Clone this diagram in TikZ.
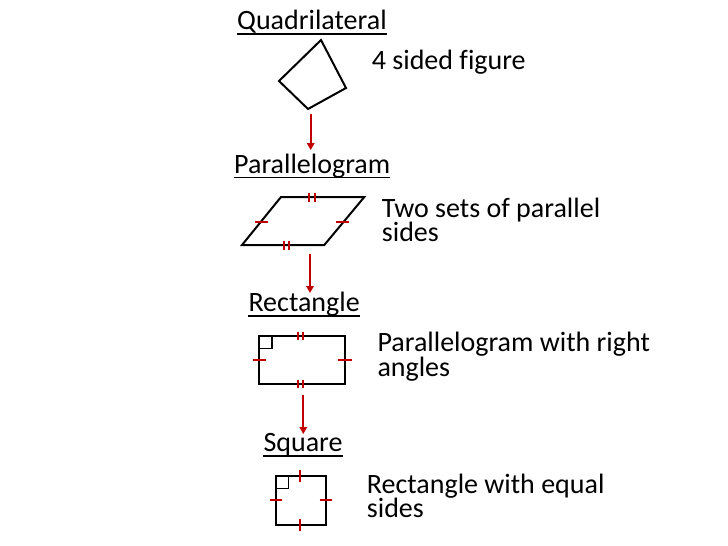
\documentclass[tikz,border=0pt]{standalone}
\usepackage{fontspec}
\setmainfont{Carlito}[Ligatures=NoCommon]
\usetikzlibrary{arrows.meta}
\definecolor{tickred}{HTML}{C00000}
\begin{document}
\begin{tikzpicture}[x=1pt,y=-1pt,
  shapeline/.style={draw=black,line width=2pt,line join=miter},
  tickmark/.style={draw=tickred,line width=1.8pt},
  arr/.style={draw=tickred,line width=2pt,-{Triangle[length=7pt,width=7.5pt]}},
  title/.style={anchor=base west,inner sep=0pt,font=\fontsize{28}{30}\selectfont},
  desc/.style={anchor=base west,inner sep=0pt,align=left,font=\fontsize{28}{24.5}\selectfont},
  uline/.style={draw=black,line width=1.5pt}]
\useasboundingbox (0,0) rectangle (728,546);
% titles
\node[title] (tq) at (237,29.5) {Quadrilateral};
\node[title] (tp) at (234,173) {Parallelogram};
\node[title] (tr) at (248.3,311.7) {Rectangle};
\node[title] (ts) at (263.3,451.7) {Square};
\foreach \t in {tq,tp,tr,ts}
  \draw[uline] ([yshift=-4.5pt]\t.base west) -- ([yshift=-4.5pt]\t.base east);
% descriptions (base anchor = last line)
\node[desc] (dq) at (371.7,69.3) {4 sided figure};
\node[desc] (dp) at (381.7,241.5) {Two sets of parallel\\sides};
\node[desc] (dr) at (377.3,376) {Parallelogram with right\\angles};
\node[desc] (ds) at (366.7,517.5) {Rectangle with equal\\sides};
% quadrilateral
\draw[shapeline] (321,40) -- (279,81) -- (308,109) -- (346,88) -- cycle;
% parallelogram
\draw[shapeline] (281,197) -- (364.3,197) -- (324.3,245) -- (242,245) -- cycle;
\draw[tickmark] (309.3,192.7) -- (309.3,201.7) (314.7,192.7) -- (314.7,201.7);
\draw[tickmark] (284.3,240.5) -- (284.3,249.5) (289.3,240.5) -- (289.3,249.5);
\draw[tickmark] (255,221.7) -- (268.3,221.7);
\draw[tickmark] (336,221.7) -- (349.3,221.7);
% rectangle
\draw[shapeline] (259.3,335.7) rectangle (345,383.7);
\draw[shapeline,line width=1.6pt] (259.3,348.3) -- (272,348.3) -- (272,335.7);
\draw[tickmark] (298.3,331.7) -- (298.3,339.7) (303.3,331.7) -- (303.3,339.7);
\draw[tickmark] (298.3,379.7) -- (298.3,387.7) (303.3,379.7) -- (303.3,387.7);
\draw[tickmark] (252.7,360) -- (266,360);
\draw[tickmark] (338.3,360) -- (351.7,360);
% square
\draw[shapeline] (275.7,475.7) rectangle (325.7,525);
\draw[shapeline,line width=1.6pt] (275.7,488.3) -- (288.3,488.3) -- (288.3,475.7);
\draw[tickmark] (300,469.7) -- (300,481.7);
\draw[tickmark] (300,519) -- (300,531);
\draw[tickmark] (269.7,500) -- (281.7,500);
\draw[tickmark] (319.7,500) -- (331.7,500);
% arrows
\coordinate (a1s) at (310.7,114);
\coordinate (a1e) at (310.7,150);
\coordinate (a2s) at (310,254);
\coordinate (a2e) at (310,293);
\coordinate (a3s) at (303.3,395);
\coordinate (a3e) at (303.3,434);
\draw[arr] (a1s) -- (a1e);
\draw[arr] (a2s) -- (a2e);
\draw[arr] (a3s) -- (a3e);
\end{tikzpicture}
\end{document}
